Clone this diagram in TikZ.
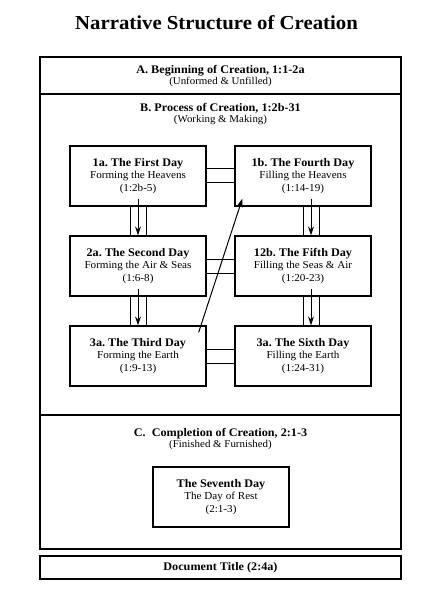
\documentclass[tikz,border=0pt]{standalone}
\usepackage{fontspec}
\setmainfont[FakeStretch=1.05]{Liberation Serif}
\usetikzlibrary{arrows.meta}
\frenchspacing

\tikzset{
    daybox/.style={draw, line width=1.3pt, minimum width=136pt, minimum height=60pt,
        align=center, inner sep=0pt, font=\fontsize{10.6}{12.5}\selectfont},
    section/.style={draw, line width=1.5pt, minimum width=361pt, inner sep=0pt},
    heading/.style={align=center, inner sep=0pt, font=\fontsize{10.4}{11.5}\selectfont},
    rail/.style={line width=1pt},
    flow/.style={line width=1pt, -{Stealth[length=9pt,width=6pt]}}
}
\newcommand{\daytitle}[1]{{\fontsize{11.6}{12.5}\selectfont\bfseries #1}}

\begin{document}
\begin{tikzpicture}[x=1pt, y=-1pt]
    \useasboundingbox (0,0) rectangle (429,601);
    \fill[white] (0,0) rectangle (429,601);

    \node[font=\fontsize{19.8}{22}\selectfont\bfseries] (title) at (216.5,23) {Narrative Structure of Creation};

    \node[section, minimum height=37pt] (secA) at (220.5,75.5) {};
    \node[section, minimum height=321pt] (secB) at (220.5,254.5) {};
    \node[section, minimum height=134pt] (secC) at (220.5,482) {};
    \node[section, minimum height=23pt] (doc) at (220.5,567.5) {\daytitle{Document Title (2:4a)}};

    \node[heading] (headA) at (220.5,76) {\daytitle{A. Beginning of Creation, 1:1-2a}\\(Unformed \& Unfilled)};
    \node[heading] (headB) at (220.5,114) {\daytitle{B. Process of Creation, 1:2b-31}\\(Working \& Making)};
    \node[heading] (headC) at (220.5,439) {\daytitle{C.\ \ Completion of Creation, 2:1-3}\\(Finished \& Furnished)};

    \node[daybox] (day1) at (138,176) {\daytitle{1a. The First Day}\\Forming the Heavens\\(1:2b-5)};
    \node[daybox] (day2) at (138,266) {\daytitle{2a. The Second Day}\\Forming the Air \& Seas\\(1:6-8)};
    \node[daybox] (day3) at (138,356) {\daytitle{3a. The Third Day}\\Forming the Earth\\(1:9-13)};
    \node[daybox] (day4) at (303,176) {\daytitle{1b. The Fourth Day}\\Filling the Heavens\\(1:14-19)};
    \node[daybox] (day5) at (303,266) {\daytitle{12b. The Fifth Day}\\Filling the Seas \& Air\\(1:20-23)};
    \node[daybox] (day6) at (303,356) {\daytitle{3a. The Sixth Day}\\Filling the Earth\\(1:24-31)};
    \node[daybox] (day7) at (221,497) {\daytitle{The Seventh Day}\\The Day of Rest\\(2:1-3)};

    \foreach \a/\b in {day1/day4, day2/day5, day3/day6} {
        \draw[rail] ([yshift=7pt]\a.east) -- ([yshift=7pt]\b.west);
        \draw[rail] ([yshift=-7pt]\a.east) -- ([yshift=-7pt]\b.west);
    }
    \foreach \a/\b/\s in {day1/day2/0, day2/day3/0, day4/day5/8, day5/day6/8} {
        \draw[rail] ([xshift={\s-8}]\a.south) -- ([xshift={\s-8}]\b.north);
        \draw[rail] ([xshift={\s+8}]\a.south) -- ([xshift={\s+8}]\b.north);
        \draw[flow] ([xshift=\s, yshift=8pt]\a.south) -- ([xshift=\s]\b.north);
    }
    \draw[flow] ([xshift=-8pt, yshift=-7pt]day3.north east) -- ([xshift=8pt, yshift=8pt]day4.south west);
\end{tikzpicture}
\end{document}
